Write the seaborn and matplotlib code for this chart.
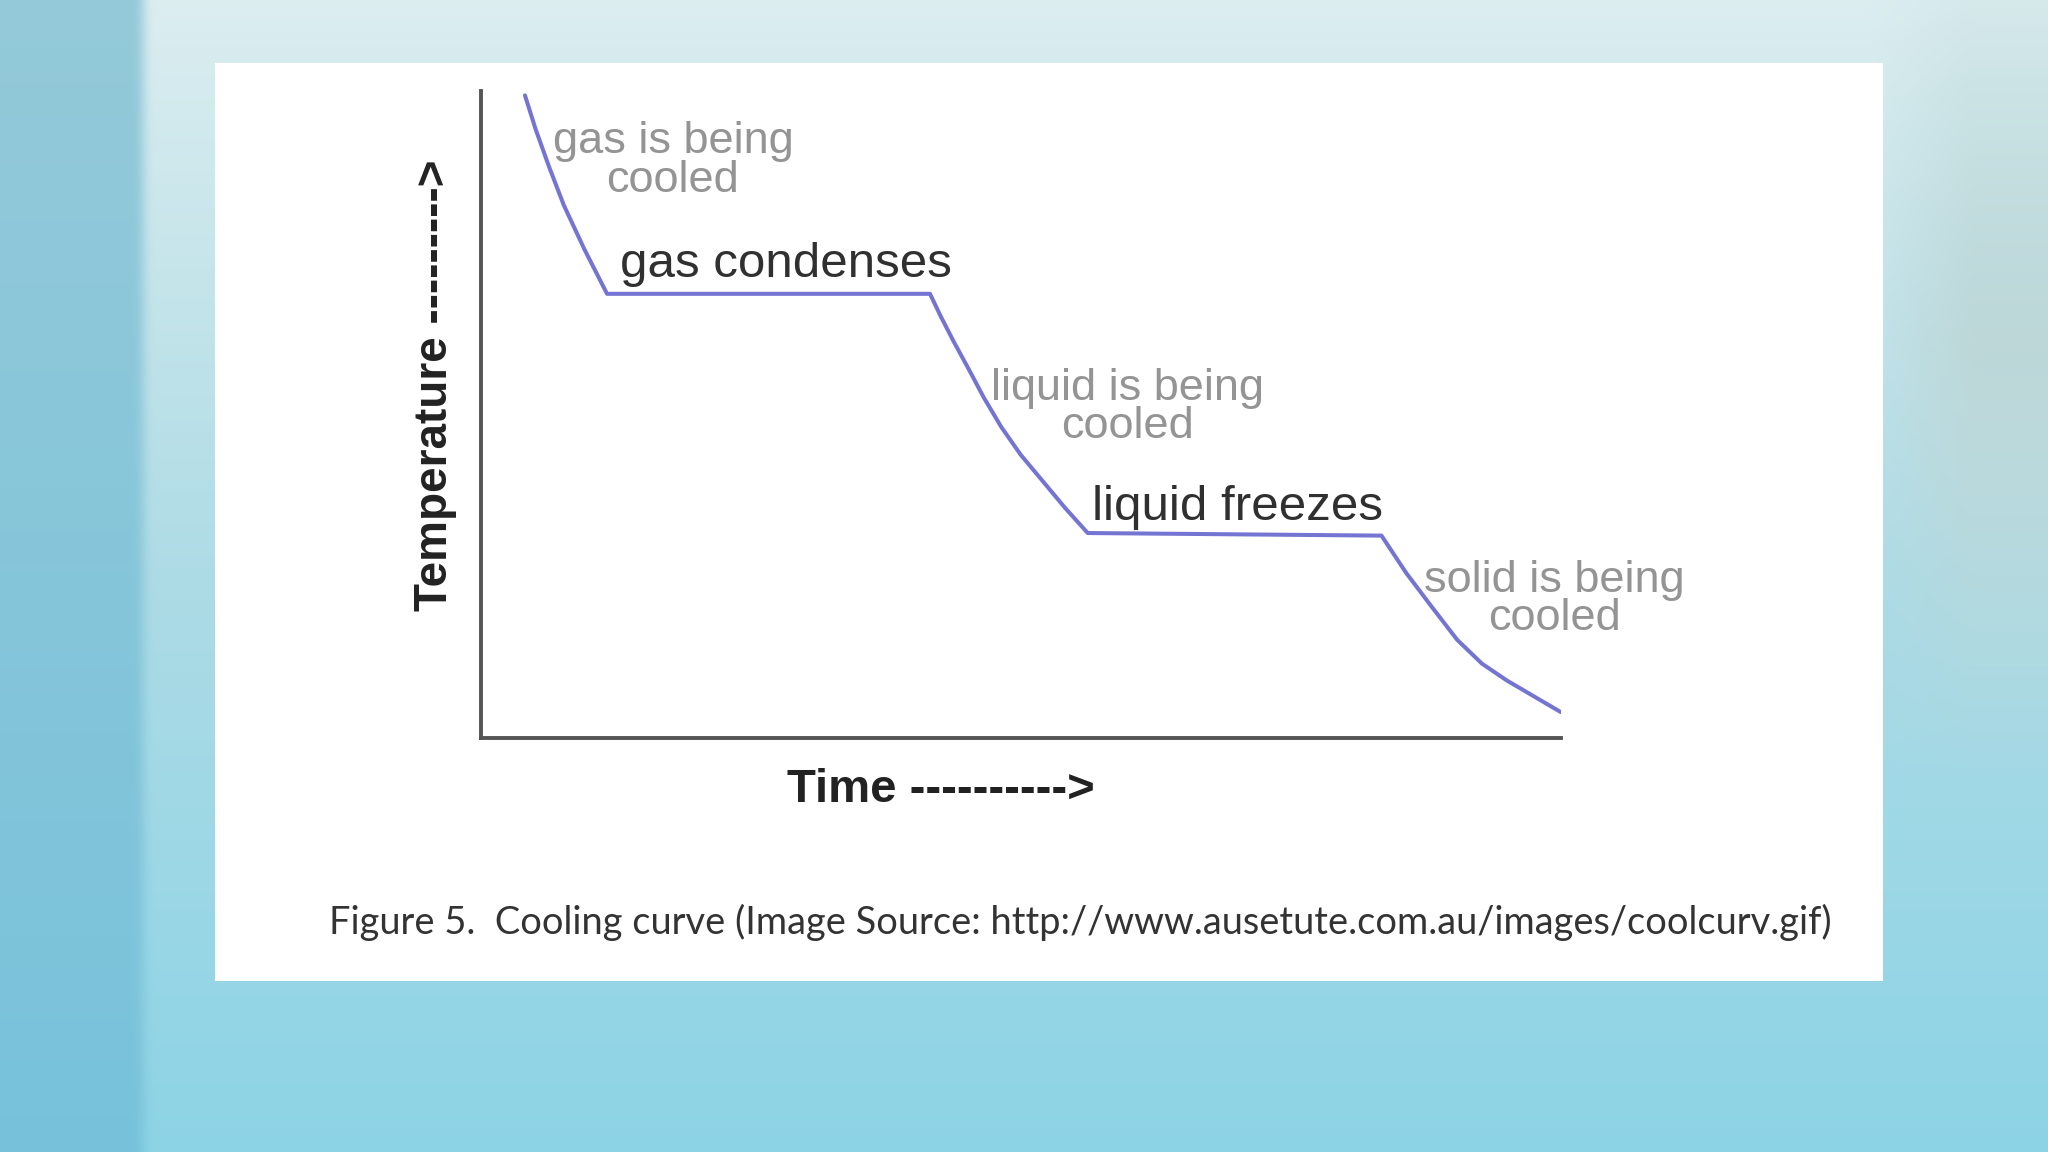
import numpy as np
import pandas as pd
import seaborn as sns
import matplotlib.pyplot as plt
from matplotlib.patches import Rectangle

# cooling curve (axes run 0..100 both ways)
time_pts = [4.1, 5.1, 6.3, 7.7, 9.6, 11.7,
            41.6, 42.6, 43.8, 45.2, 46.6, 48.2, 50.0, 52.0, 54.1, 56.2,
            83.4, 85.7, 88.0, 90.4, 92.7, 95.0, 100.0]
temp_pts = [99.4, 94.1, 88.5, 82.4, 75.6, 68.7,
            68.7, 65.2, 61.3, 57.0, 52.6, 48.1, 43.8, 39.8, 35.6, 31.7,
            31.3, 25.5, 20.4, 15.2, 11.5, 8.9, 4.0]

stage_labels = ["gas is being\ncooled", "liquid is being\ncooled", "solid is being\ncooled"]
stage_x = [17.8, 59.9, 99.4]
stage_y = [89.3, 51.1, 21.4]

change_labels = ["gas condenses", "liquid freezes"]
change_x = [12.9, 56.6]
change_y = [71.3, 33.7]

caption = "Figure 5.  Cooling curve (Image Source: http://www.ausetute.com.au/images/coolcurv.gif)"

sns.set_style("white")
plt.rcParams['font.family'] = ['Liberation Sans', 'DejaVu Sans']

fig = plt.figure(figsize=(20.48, 11.52), dpi=100)

# slide background
bg = fig.add_axes([0, 0, 1, 1], zorder=-10)
h, w = 120, 200
yy, xx = np.mgrid[0:1:h * 1j, 0:1:w * 1j]
Y = yy[..., None]
top = np.array([0.86, 0.93, 0.94])
mid = np.array([0.68, 0.86, 0.90])
bot = np.array([0.55, 0.83, 0.90])
t = np.clip(Y / 0.5, 0, 1)
img = top * (1 - t) + mid * t
t2 = np.clip((Y - 0.5) / 0.5, 0, 1)
img = img * (1 - t2) + bot * t2
# bluer strip on the left
strip = np.array([0.58, 0.79, 0.85]) * (1 - Y) + np.array([0.47, 0.76, 0.86]) * Y
img = np.where((xx < 0.068)[..., None], strip, img)
# grey-green haze on the right
haze_c = np.array([0.74, 0.84, 0.84])
hx = np.clip((xx[..., None] - 0.915) / 0.05, 0, 1)
hy = np.clip(1 - np.abs(Y - 0.3) / 0.38, 0, 1)
haze = hx * hy * 0.9
img = img * (1 - haze) + haze_c * haze
bg.imshow(img, aspect='auto', extent=[0, 1, 0, 1], interpolation='bicubic')
bg.set_axis_off()

# white panel
fig.patches.append(Rectangle((0.1052, 0.1485), 0.8144, 0.7971, transform=fig.transFigure,
                             facecolor='white', edgecolor='none', zorder=-5))

ax = fig.add_axes([0.2347, 0.3594, 0.5274, 0.5612])
ax.set_facecolor('none')
df = pd.DataFrame({"Time": time_pts, "Temperature": temp_pts})
sns.lineplot(data=df, x="Time", y="Temperature", sort=False, ax=ax,
             color='#7474d2', linewidth=2.9)
ax.set_xlim(0, 100)
ax.set_ylim(0, 100)
ax.set_xticks([])
ax.set_yticks([])
ax.set_xlabel("")
ax.set_ylabel("")
for side in ['top', 'right']:
    ax.spines[side].set_visible(False)
for side in ['left', 'bottom']:
    ax.spines[side].set_color('#555555')
    ax.spines[side].set_linewidth(2.8)

for lab, x, y in zip(stage_labels, stage_x, stage_y):
    ax.text(x, y, lab, ha='center', va='center', fontsize=32.5, color='#949494',
            linespacing=0.93, clip_on=False)
for lab, x, y in zip(change_labels, change_x, change_y):
    ax.text(x, y, lab, ha='left', va='baseline', fontsize=35.5, color='#303030',
            clip_on=False)

ax.text(-4.2, 54.5, "Temperature --------->", rotation=90, ha='center', va='center',
        fontsize=33, fontweight='bold', color='#222222', clip_on=False)
ax.text(42.6, -8.1, "Time ---------->", ha='center', va='center',
        fontsize=34, fontweight='bold', color='#222222', clip_on=False)

fig.text(0.5277, 1 - 706 / 882, caption, ha='center', va='center', fontsize=27.4,
         color='#333333', family=['Lato', 'DejaVu Sans'])

fig.savefig("out.png", dpi=100)
